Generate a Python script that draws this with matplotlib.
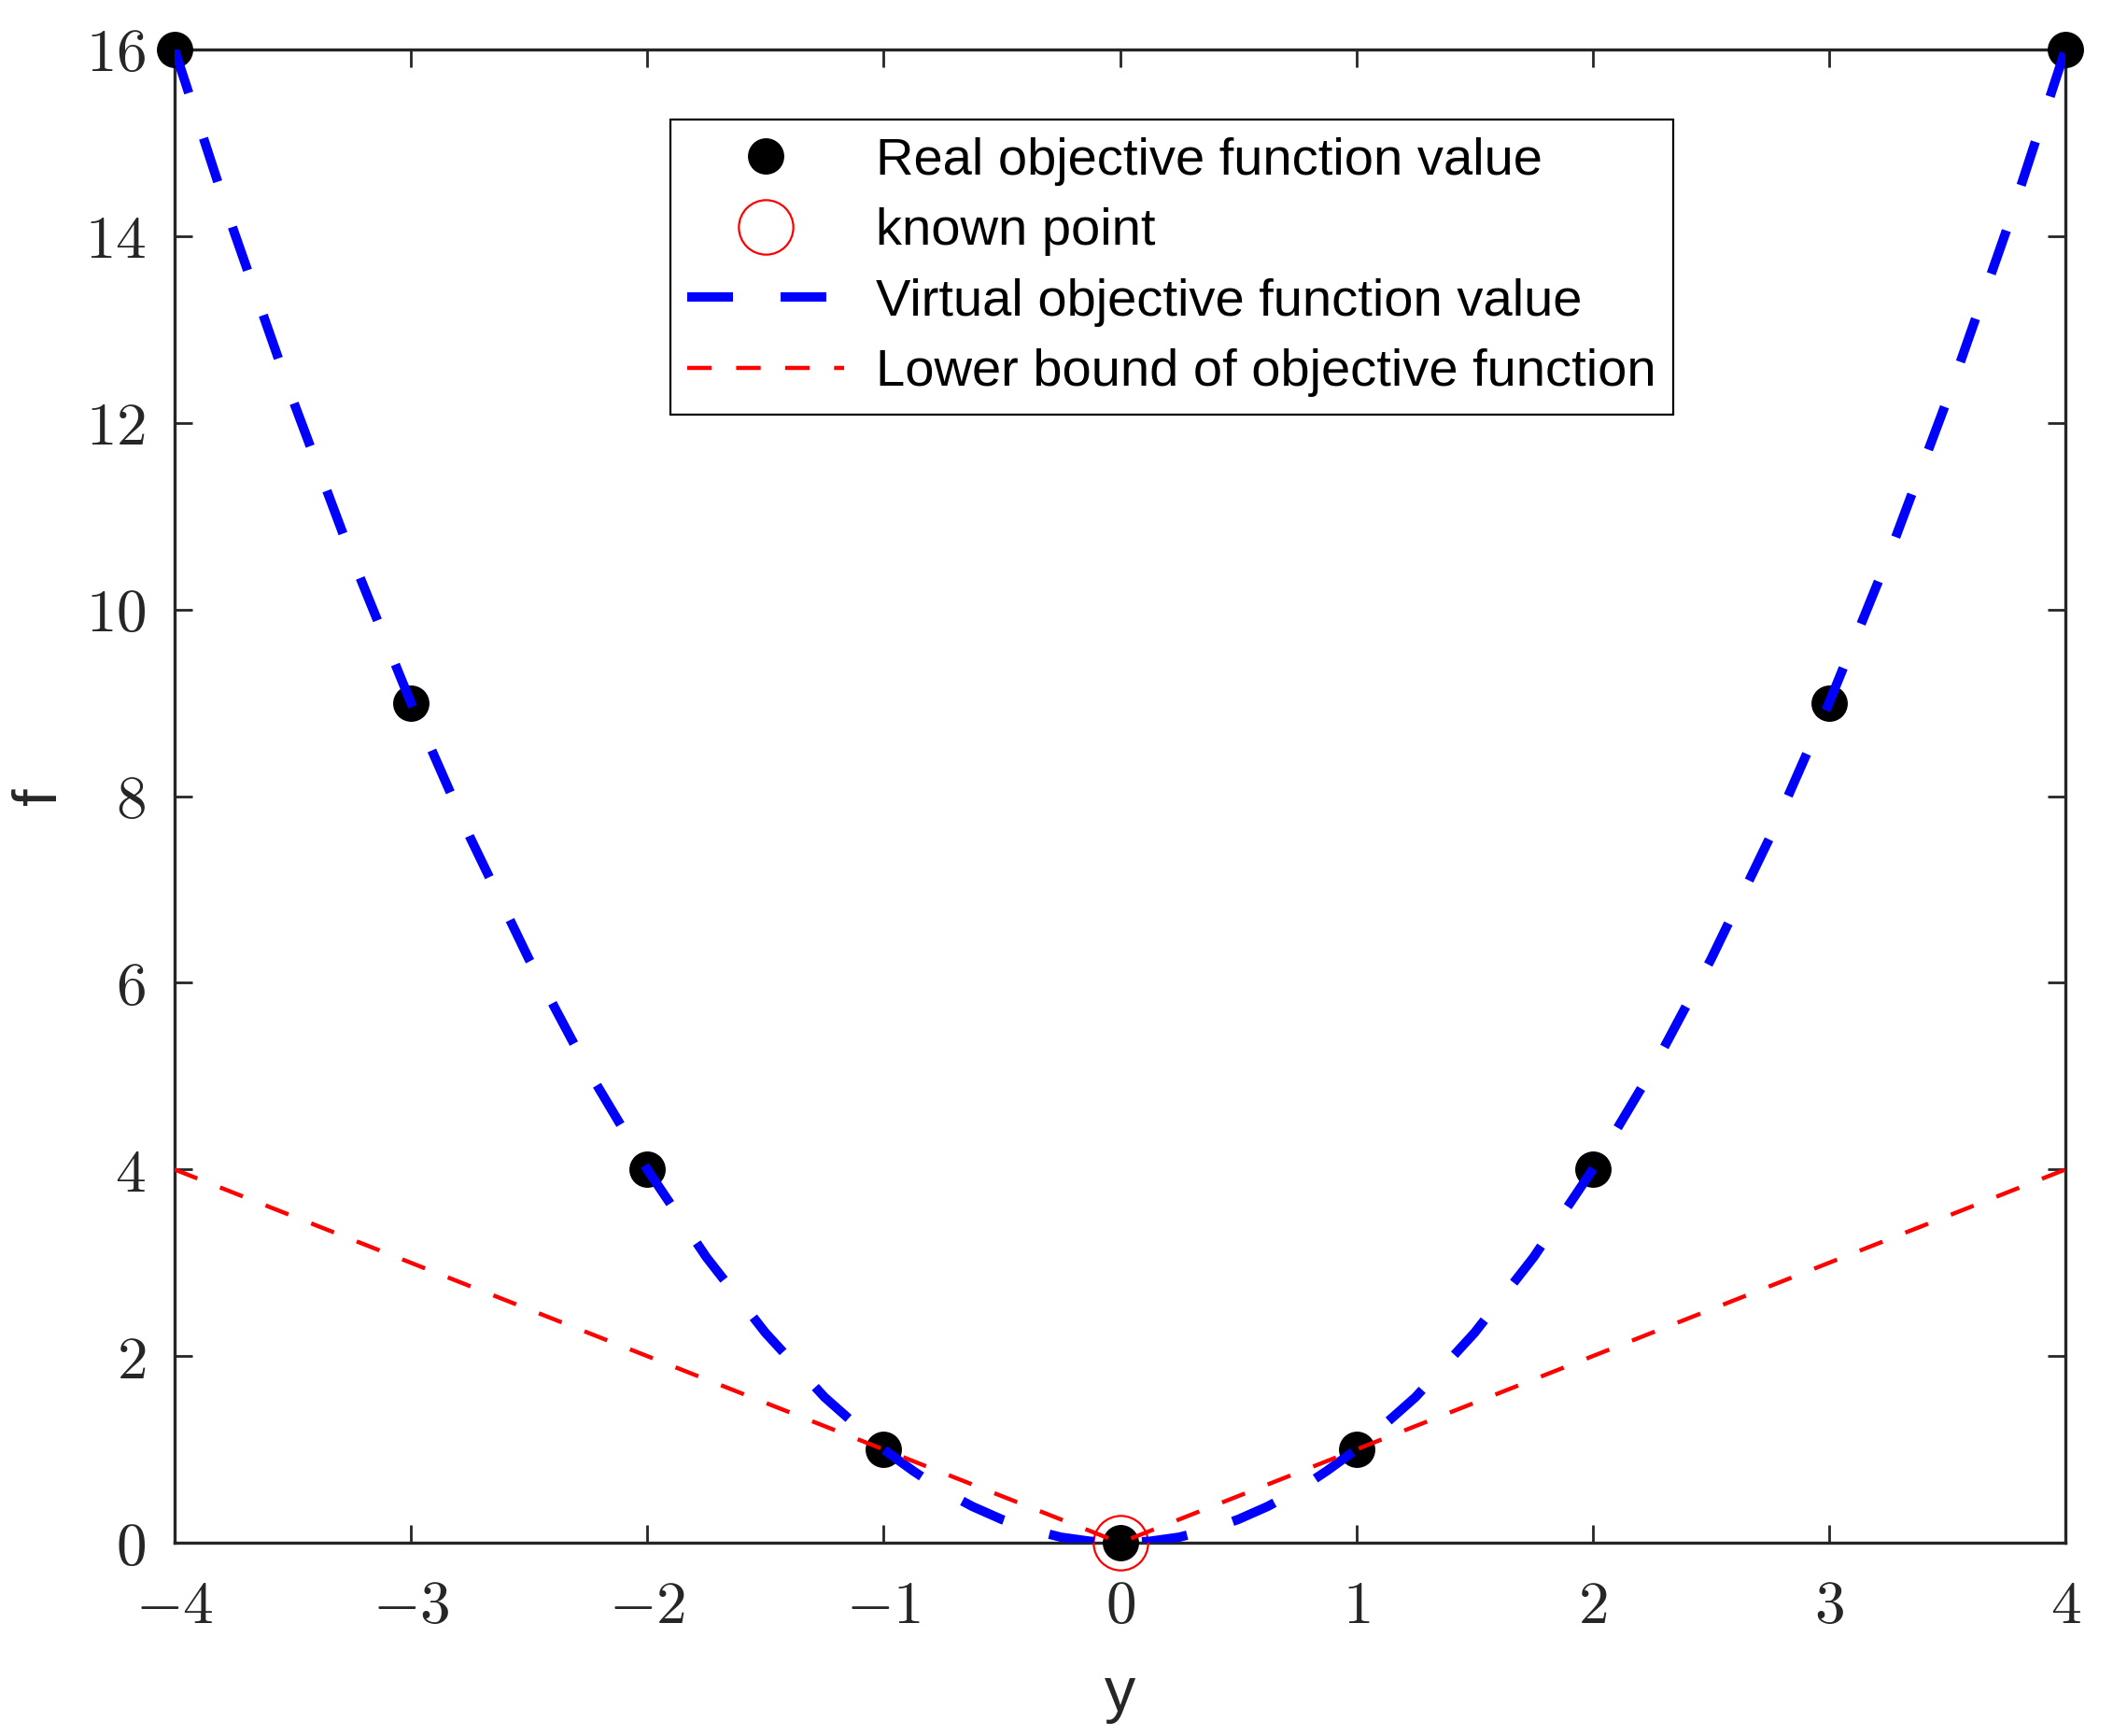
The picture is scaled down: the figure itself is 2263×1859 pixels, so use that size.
import matplotlib
matplotlib.use('Agg')
import matplotlib.pyplot as plt
from matplotlib.ticker import FuncFormatter

# Data
y_real = [-4, -3, -2, -1, 0, 1, 2, 3, 4]
f_real = [16, 9, 4, 1, 0, 1, 4, 9, 16]

y_known = [0]
f_known = [0]

y_virtual = [-4.0, -3.75, -3.5, -3.25, -3.0, -2.75, -2.5, -2.25, -2.0, -1.75, -1.5,
             -1.25, -1.0, -0.875, -0.75, -0.625, -0.5, -0.375, -0.25, -0.125, 0.0,
             0.125, 0.25, 0.375, 0.5, 0.625, 0.75, 0.875, 1.0, 1.25, 1.5,
             1.75, 2.0, 2.25, 2.5, 2.75, 3.0, 3.25, 3.5, 3.75, 4.0]
f_virtual = [16.0, 14.06, 12.25, 10.56, 9.0, 7.56, 6.25, 5.06, 4.0, 3.06, 2.25,
             1.56, 1.0, 0.77, 0.56, 0.39, 0.25, 0.14, 0.06, 0.016, 0.0,
             0.016, 0.06, 0.14, 0.25, 0.39, 0.56, 0.77, 1.0, 1.56, 2.25,
             3.06, 4.0, 5.06, 6.25, 7.56, 9.0, 10.56, 12.25, 14.06, 16.0]

y_lower = [-4, 0, 4]
f_lower = [4, 0, 4]

x_ticks = [-4, -3, -2, -1, 0, 1, 2, 3, 4]
f_ticks = [0, 2, 4, 6, 8, 10, 12, 14, 16]

plt.rcParams['mathtext.fontset'] = 'cm'
plt.rcParams['font.family'] = ['Liberation Sans', 'DejaVu Sans']

fig = plt.figure(figsize=(11.315, 9.295), dpi=200)
ax = fig.add_axes([0.0826, 0.1113, 0.8949, 0.8602])

ax.plot(y_real, f_real, 'o', color='black', markersize=13, clip_on=False,
        label='Real objective function value', zorder=3)
ax.plot(y_known, f_known, 'o', markerfacecolor='none', markeredgecolor='red',
        markeredgewidth=0.8, markersize=21, clip_on=False, label='known point', zorder=3)
ax.plot(y_virtual, f_virtual, color='blue', linewidth=3.6, dashes=(4.9, 5.1),
        label='Virtual objective function value', zorder=3)
ax.plot(y_lower, f_lower, color='red', linewidth=1.6, dashes=(5.9, 5.9),
        label='Lower bound of objective function', zorder=3)

ax.set_xlim(-4, 4)
ax.set_ylim(0, 16)
ax.set_xticks(x_ticks)
ax.set_yticks(f_ticks)
fmt = FuncFormatter(lambda v, p: r'$%g$' % v)
ax.xaxis.set_major_formatter(fmt)
ax.yaxis.set_major_formatter(fmt)
ax.tick_params(direction='in', length=7, width=1.0, colors='#262626', labelsize=23.5,
               top=True, right=True)
ax.tick_params(axis='x', pad=14)
ax.tick_params(axis='y', pad=11)
for s in ax.spines.values():
    s.set_linewidth(1.2)
    s.set_color('#262626')

ax.set_xlabel('y', fontsize=24, labelpad=12, color='#262626')
ax.set_ylabel('f', fontsize=24, labelpad=6, color='#262626')

leg = ax.legend(loc='upper left', bbox_to_anchor=(0.262, 0.953), fontsize=20.2,
                frameon=True, fancybox=False, edgecolor='black', framealpha=1,
                handlelength=3.0, handletextpad=0.6, borderpad=0.33, labelspacing=0.42,
                borderaxespad=0)
leg.get_frame().set_linewidth(0.8)

fig.savefig('out.png', dpi=200)
